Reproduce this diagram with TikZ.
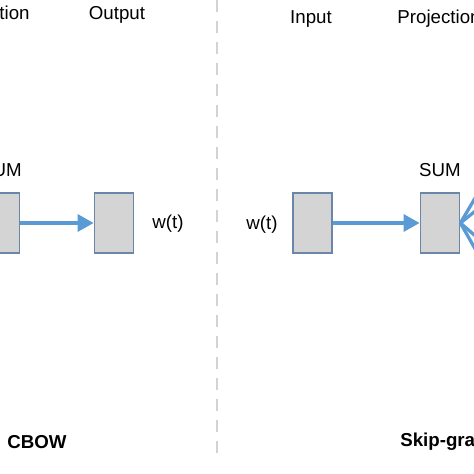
\documentclass[tikz,border=0pt]{standalone}
\usepackage{fontspec}
\setmainfont{Liberation Sans}
\usetikzlibrary{arrows.meta}
\definecolor{boxfill}{HTML}{D4D4D4}
\definecolor{boxline}{HTML}{6A86A8}
\definecolor{arrowblue}{HTML}{5B9BD5}
\definecolor{dashgray}{HTML}{D3D3D3}
\begin{document}
\begin{tikzpicture}[x=1pt,y=-1pt]
            \tikzstyle{layer} = [draw=boxline, line width=1.8pt, fill=boxfill, minimum width=39pt, minimum height=60pt, inner sep=0pt]
            \tikzstyle{label} = [font=\fontsize{18.7}{22}\selectfont, inner sep=0pt]
            \tikzstyle{title} = [font=\fontsize{18.7}{22}\selectfont\bfseries, inner sep=0pt]
            \tikzstyle{flow} = [draw=arrowblue, line width=3.3pt, -{Triangle[length=16pt,width=17pt]}]
            \tikzstyle{fan} = [draw=arrowblue, line width=3.3pt]

            \useasboundingbox (0,0) rectangle (474,474);
            \clip (0,0) rectangle (474,474);

            % CBOW
            \node [layer] (cproj) at (0,223) {};
            \node [layer] (cout) at (114,223) {};
            \node [label] (cprojtext) at (-12,15) {Projection};
            \node [label] (couttext) at (117,15) {Output};
            \node [label] (csum) at (1,170) {SUM};
            \node [label] (cword) at (168,224) {w(t)};
            \node [title] (cbow) at (37,442) {CBOW};
            \draw [flow] (cproj.east) -- (cout.west);

            % separator
            \coordinate (septop) at (217,0);
            \coordinate (sepbot) at (217,456);
            \draw [dashgray, line width=2.8pt, dash pattern=on 12pt off 9pt] (septop) -- (sepbot);

            % Skip-gram
            \node [layer] (sin) at (312.5,223) {};
            \node [layer] (sproj) at (440,223) {};
            \node [label] (sintext) at (311,19) {Input};
            \node [label] (sprojtext) at (439,19) {Projection};
            \node [label] (ssum) at (440,170) {SUM};
            \node [label] (sword) at (262,225) {w(t)};
            \node [title] (skip) at (446,442) {Skip-gram};
            \draw [flow] (sin.east) -- (sproj.west);

            \coordinate (fana) at (494,166);
            \coordinate (fanb) at (494,196);
            \coordinate (fanc) at (494,252);
            \coordinate (fand) at (494,282);
            \foreach \f in {fana,fanb,fanc,fand}
                \draw [fan] (sproj.east) -- (\f);
\end{tikzpicture}
\end{document}
